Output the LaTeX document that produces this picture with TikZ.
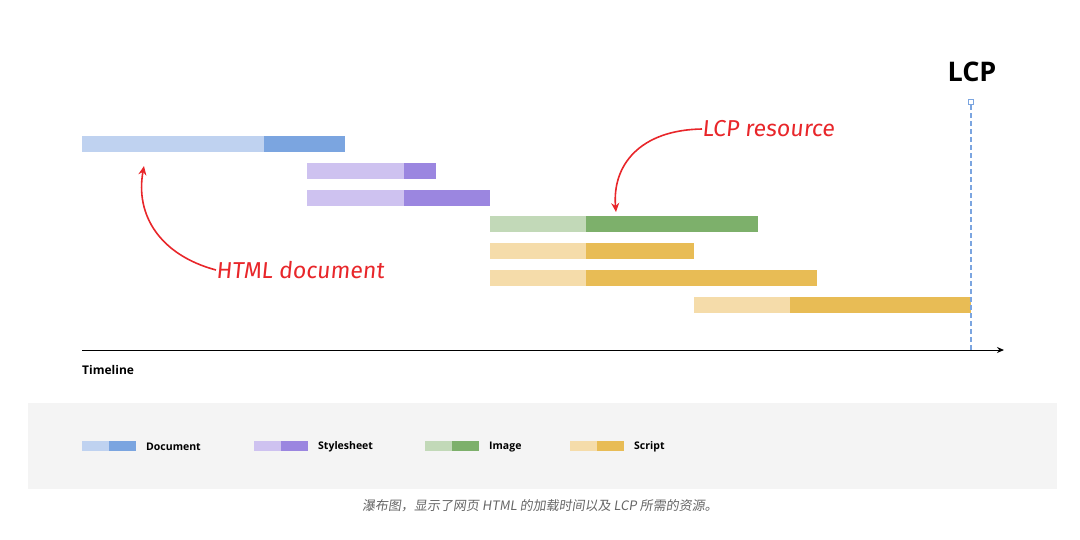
\documentclass[tikz,border=0pt]{standalone}
\usepackage{fontspec}
\setmainfont{Open Sans}
\newfontfamily\cjk[FakeSlant=0.15]{Noto Sans CJK SC}
\newfontfamily\hand[FakeSlant=0.1]{Fira Sans}
\usetikzlibrary{arrows.meta}
\definecolor{docL}{HTML}{BFD2F0}\definecolor{docD}{HTML}{7BA5E0}
\definecolor{styL}{HTML}{CEC2F0}\definecolor{styD}{HTML}{9B86E0}
\definecolor{imgL}{HTML}{C2D9B8}\definecolor{imgD}{HTML}{7DB06B}
\definecolor{scrL}{HTML}{F5DCAA}\definecolor{scrD}{HTML}{E8BC55}
\definecolor{anno}{HTML}{E8262A}
\definecolor{lgray}{HTML}{F4F4F4}
\begin{document}
\begin{tikzpicture}[x=1pt,y=-1pt,
  lbl/.style={font=\fontsize{10.5}{12}\selectfont\bfseries,anchor=west,inner sep=0},
  annot/.style={font=\hand\fontsize{23}{25}\selectfont,text=anno,inner sep=0},
  ann/.style={draw=anno,line width=1.6pt,-{Stealth[length=9pt,width=8pt]}}]
\useasboundingbox (0,0) rectangle (1080,539);
\fill[docL] (82,136) rectangle (264,152); \fill[docD] (264,136) rectangle (345,152);
\fill[styL] (307,163) rectangle (404,179); \fill[styD] (404,163) rectangle (436,179);
\fill[styL] (307,190) rectangle (404,206); \fill[styD] (404,190) rectangle (490,206);
\fill[imgL] (490,216) rectangle (586,232); \fill[imgD] (586,216) rectangle (758,232);
\fill[scrL] (490,243) rectangle (586,259); \fill[scrD] (586,243) rectangle (694,259);
\fill[scrL] (490,270) rectangle (586,286); \fill[scrD] (586,270) rectangle (817,286);
\fill[scrL] (694,297) rectangle (790,313); \fill[scrD] (790,297) rectangle (971,313);
\coordinate (a0) at (82,350); \coordinate (a1) at (1004,350);
\draw[line width=1pt,-{Stealth[length=7pt,width=6pt]}] (a0) -- (a1);
\node[lbl,font=\fontsize{12}{14}\selectfont\bfseries] (tl) at (82,370) {Timeline};
\node[font=\fontsize{27}{30}\selectfont\bfseries,inner sep=0] (lcp) at (972,72) {LCP};
\node[draw=docD,fill=white,minimum size=5pt,inner sep=0,line width=1pt] (sq) at (971,102) {};
\coordinate (lb) at (971,350);
\draw[docD,dash pattern=on 5pt off 3pt,line width=1.3pt] (sq) -- (lb);
\node[annot,anchor=west] (html) at (216,270) {HTML document};
\node[annot,anchor=west] (lcpr) at (702,129) {LCP resource};
\draw[ann] (html.west) .. controls (160,255) and (135,215) .. (144,166);
\draw[ann] (lcpr.west) .. controls (640,130) and (612,165) .. (616,212);
\fill[lgray] (28,403) rectangle (1057,489);
\foreach \x/\l/\d/\t in {82/docL/docD/Document,254/styL/styD/Stylesheet,425/imgL/imgD/Image,570/scrL/scrD/Script}{
  \fill[\l] (\x,441) rectangle (\x+27,451); \fill[\d] (\x+27,441) rectangle (\x+54,451);
  \node[lbl] at (\x+64,447) {\t};}
\node[font=\cjk\fontsize{13}{15}\selectfont,text=black!60,inner sep=0] (cap) at (540,506) {瀑布图，显示了网页 HTML 的加载时间以及 LCP 所需的资源。};
\end{tikzpicture}
\end{document}
